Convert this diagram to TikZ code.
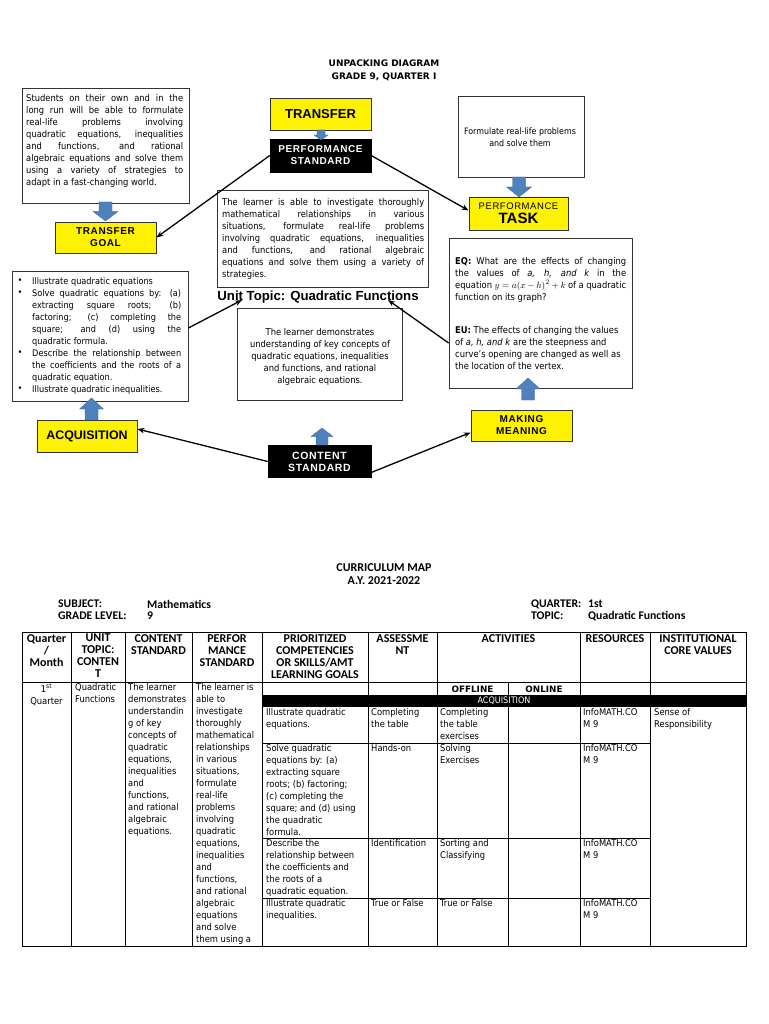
\documentclass[tikz,border=0pt]{standalone}
\usepackage{fontspec}
\setmainfont{DejaVu Sans Condensed}
\newfontfamily\arialf{Liberation Sans}
\newfontfamily\arialsp{Liberation Sans}[LetterSpace=6]
\newfontfamily\calib{Carlito}
\newfontfamily\verd{DejaVu Sans}
\usetikzlibrary{arrows.meta,calc}
\definecolor{ablue}{HTML}{4F81BD}
\definecolor{bxline}{HTML}{333333}
\newcommand\jl[1]{\hbox to \hsize{#1}}
\newcommand\bdn[5]{\filldraw[fill=ablue,draw=ablue!80!black,line width=0.3pt] (#1-#4,#2) -- (#1+#4,#2) -- (#1+#4,{(#2+#3)/2}) -- (#1+#5,{(#2+#3)/2}) -- (#1,#3) -- (#1-#5,{(#2+#3)/2}) -- (#1-#4,{(#2+#3)/2}) -- cycle;}
\tikzset{
 ylbl/.style={draw=bxline, line width=0.8pt, fill=yellow, inner sep=0pt, align=center},
 blkbox/.style={fill=black, draw=black, inner sep=0pt, align=center, text=white},
 tbox/.style={draw=bxline, line width=0.8pt, inner sep=0pt},
 conn/.style={line width=1.3pt, -{Stealth[length=7pt,width=5.5pt]}},
 txtbox/.style={inner sep=0pt, anchor=north west, font=\fontsize{9.3}{12}\selectfont},
 tline/.style={line width=0.6pt},
 thead/.style={inner sep=0pt, anchor=north, align=center, font=\calib\bfseries\fontsize{12}{12}\selectfont},
 tbody/.style={inner sep=0pt, anchor=north west, align=left, font=\fontsize{9.3}{12}\selectfont},
 cmaptxt/.style={inner sep=0pt, anchor=west, font=\calib\bfseries\fontsize{11.7}{12}\selectfont},
}
\begin{document}
\begin{tikzpicture}[x=1pt,y=-1pt]
\useasboundingbox[fill=white] (0,0) rectangle (768,1024);

\node[font=\verd\bfseries\fontsize{9}{13}\selectfont, align=center, inner sep=0pt] (title) at (384,70.5) {UNPACKING DIAGRAM\\GRADE 9, QUARTER I};

% ---------- boxes ----------
\node[tbox, minimum width=167pt, minimum height=115pt] (tgt) at (105.5,145.5) {};
\node[txtbox] (tgtx) at (26,94) {\vbox{\hsize=157pt \jl{Students on their own and in the}\jl{long run will be able to formulate}\jl{real-life problems involving}\jl{quadratic equations, inequalities}\jl{and functions, and rational}\jl{algebraic equations and solve them}\jl{using a variety of strategies to}\hbox{adapt in a fast-changing world.}}};

\node[ylbl, minimum width=101pt, minimum height=32pt, font=\arialf\bfseries\fontsize{13}{14}\selectfont] (tr) at (320.5,114) {TRANSFER};
\node[blkbox, minimum width=101pt, minimum height=33pt, font=\arialsp\bfseries\fontsize{10}{12}\selectfont] (ps) at (320.5,155.5) {PERFORMANCE\\STANDARD};

\node[tbox, minimum width=211pt, minimum height=97pt] (pst) at (322.5,238.5) {};
\node[txtbox] (pstx) at (222,198.5) {\vbox{\hsize=202pt \jl{The learner is able to investigate thoroughly}\jl{mathematical relationships in various}\jl{situations, formulate real-life problems}\jl{involving quadratic equations, inequalities}\jl{and functions, and rational algebraic}\jl{equations and solve them using a variety of}\hbox{strategies.}}};

\node[ylbl, minimum width=101pt, minimum height=31pt, font=\arialsp\bfseries\fontsize{10}{12}\selectfont] (tg) at (105.5,237.5) {TRANSFER\\GOAL};

\node[tbox, minimum width=126pt, minimum height=81pt] (fb) at (521,136.5) {};
\node[inner sep=0pt, align=center, font=\fontsize{8.8}{12}\selectfont] (fbx) at (520,137) {Formulate real-life problems\\and solve them};

\node[ylbl, minimum width=99pt, minimum height=33pt, font=\arialf\fontsize{10}{14.5}\selectfont] (pt) at (518.5,213.5) {{\arialsp\fontsize{9.5}{10}\selectfont PERFORMANCE}\\{\arialf\bfseries\fontsize{15}{16}\selectfont TASK}};

\node[tbox, minimum width=183pt, minimum height=150pt] (eq) at (540.5,313) {};
\node[txtbox] (eqx) at (455,257) {\vbox{\hsize=171pt \jl{\textbf{EQ:} What are the effects of changing}\jl{the values of \textit{a, h, and k} in the}\jl{equation $y=a(x-h)^2+k$ of a quadratic}\hbox{function on its graph?}\vskip 21pt\hbox{\textbf{EU:} The effects of changing the values}\hbox{of \textit{a, h, and k} are the steepness and}\hbox{curve's opening are changed as well as}\hbox{the location of the vertex.}}};

\node[ylbl, minimum width=101pt, minimum height=31pt, font=\arialsp\bfseries\fontsize{10}{12}\selectfont] (mm) at (521.5,425.5) {MAKING\\MEANING};

\node[tbox, minimum width=176pt, minimum height=130pt] (lst) at (100,336) {};
\foreach \yy in {281,293,353,389} \node[inner sep=0pt, anchor=center, font=\fontsize{9}{12}\selectfont] at (20,\yy) {•};
\node[txtbox, font=\fontsize{9.1}{12}\selectfont] (l1) at (32,277) {\vbox{\hsize=149pt \hbox{Illustrate quadratic equations}}};
\node[txtbox, font=\fontsize{9.1}{12}\selectfont] (l2) at (32,289) {\vbox{\hsize=149pt \jl{Solve quadratic equations by: (a)}\jl{extracting square roots; (b)}\jl{factoring; (c) completing the}\jl{square; and (d) using the}\hbox{quadratic formula.}}};
\node[txtbox, font=\fontsize{9.1}{12}\selectfont] (l3) at (32,349) {\vbox{\hsize=149pt \jl{Describe the relationship between}\jl{the coefficients and the roots of a}\hbox{quadratic equation.}}};
\node[txtbox, font=\fontsize{9.1}{12}\selectfont] (l4) at (32,385) {\vbox{\hsize=149pt \hbox{Illustrate quadratic inequalities.}}};

\node[inner sep=0pt, font=\arialf\bfseries\fontsize{13.2}{14}\selectfont] (ut) at (318,297.5) {Unit Topic: Quadratic Functions};

\node[tbox, minimum width=165pt, minimum height=92pt] (cb) at (319.5,354) {};
\node[inner sep=0pt, align=center, font=\fontsize{9.3}{12}\selectfont] (cbx) at (320,357) {The learner demonstrates\\understanding of key concepts of\\quadratic equations, inequalities\\and functions, and rational\\algebraic equations.};

\node[ylbl, minimum width=100pt, minimum height=32pt, font=\arialf\bfseries\fontsize{12.4}{13}\selectfont] (acq) at (87,436) {ACQUISITION};
\node[blkbox, minimum width=103pt, minimum height=32pt, font=\arialsp\bfseries\fontsize{10.5}{12}\selectfont] (cs) at (319.5,461.5) {CONTENT\\STANDARD};

% ---------- block arrows ----------
\bdn{321}{130}{140}{4}{7}
\bdn{105.5}{202}{221}{6.5}{12.5}
\bdn{519}{177}{197}{6.5}{12.5}
\bdn{91.5}{420}{398}{6.5}{12}
\bdn{322}{445}{428}{6}{11}
\bdn{528}{400}{378}{6.5}{12}

% ---------- connectors ----------
\coordinate (utl) at (242,300);
\coordinate (utr) at (388,300);
\draw[conn] (ps.west) -- (tg.east);
\draw[conn] (ps.east) -- ([yshift=3pt]pt.west);
\draw[conn] ([yshift=8pt]lst.east) -- (utl);
\draw[conn] ([yshift=-30pt]eq.west) -- (utr);
\draw[conn] (cs.west) -- ([yshift=7pt]acq.east);
\draw[conn] ([yshift=-11pt]cs.east) -- ([yshift=-7pt]mm.west);

% ---------- curriculum map ----------
\node[inner sep=0pt, align=center, font=\calib\bfseries\fontsize{12}{13}\selectfont] (cmt) at (384,574) {CURRICULUM MAP\\A.Y. 2021-2022};
\node[cmaptxt] (s1) at (58,604) {SUBJECT:};
\node[cmaptxt] (s2) at (147,604) {Mathematics};
\node[cmaptxt] (s3) at (58,616) {GRADE LEVEL:};
\node[cmaptxt] (s4) at (147,616) {9};
\node[cmaptxt] (q1) at (531,604) {QUARTER:};
\node[cmaptxt] (q2) at (588,604) {1st};
\node[cmaptxt] (q3) at (531,616) {TOPIC:};
\node[cmaptxt] (q4) at (588,616) {Quadratic Functions};

% table lines
\fill (262,695) rectangle (746,707);
\foreach \x in {71,125,192,262} \draw[tline] (\x,632) -- (\x,946);
\foreach \x in {368,437,580,650} {\draw[tline] (\x,632) -- (\x,695); \draw[tline] (\x,707) -- (\x,946);}
\draw[tline] (508,682) -- (508,695);
\draw[tline] (508,707) -- (508,946);
\draw[tline] (22,682) -- (746,682);
\foreach \y in {743,838,898} \draw[tline] (262,\y) -- (650,\y);
\draw[tline] (22,632) rectangle (746,946);

% header
\node[thead] (h1) at (46.5,634) {Quarter\\/\\Month};
\node[thead] (h2) at (98,634) {UNIT\\TOPIC:\\CONTEN\\T};
\node[thead] (h3) at (158.5,634) {CONTENT\\STANDARD};
\node[thead] (h4) at (227,634) {PERFOR\\MANCE\\STANDARD};
\node[thead] (h5) at (315,634) {PRIORITIZED\\COMPETENCIES\\OR SKILLS/AMT\\LEARNING GOALS};
\node[thead] (h6) at (402.5,634) {ASSESSME\\NT};
\node[thead] (h7) at (508.5,634) {ACTIVITIES};
\node[thead] (h8) at (615,634) {RESOURCES};
\node[thead] (h9) at (698,634) {INSTITUTIONAL\\CORE VALUES};

\node[tbody, anchor=north, align=center] (c1) at (46.5,683.5) {1\textsuperscript{st}\\Quarter};
\node[tbody] (c2) at (75,683.5) {Quadratic\\Functions};
\node[tbody] (c3) at (128,683.5) {The learner\\demonstrates\\understandin\\g of key\\concepts of\\quadratic\\equations,\\inequalities\\and\\functions,\\and rational\\algebraic\\equations.};
\node[tbody] (c4) at (196,683.5) {The learner is\\able to\\investigate\\thoroughly\\mathematical\\relationships\\in various\\situations,\\formulate\\real-life\\problems\\involving\\quadratic\\equations,\\inequalities\\and\\functions,\\and rational\\algebraic\\equations\\and solve\\them using a};

\node[inner sep=0pt, font=\verd\bfseries\fontsize{8.8}{12}\selectfont] (off) at (472.5,689) {OFFLINE};
\node[inner sep=0pt, font=\verd\bfseries\fontsize{8.8}{12}\selectfont] (onl) at (544,689) {ONLINE};
\node[inner sep=0pt, text=white, font=\fontsize{9}{10}\selectfont] (acqbar) at (504,701) {ACQUISITION};

\node[tbody] (r1a) at (266,708.5) {Illustrate quadratic\\equations.};
\node[tbody] (r1b) at (371,708.5) {Completing\\the table};
\node[tbody] (r1c) at (440,708.5) {Completing\\the table\\exercises};
\node[tbody] (r1d) at (583,708.5) {InfoMATH.CO\\M 9};
\node[tbody] (r1e) at (654,708.5) {Sense of\\Responsibility};

\node[tbody] (r2a) at (266,744.5) {Solve quadratic\\equations by: (a)\\extracting square\\roots; (b) factoring;\\(c) completing the\\square; and (d) using\\the quadratic\\formula.};
\node[tbody] (r2b) at (371,744.5) {Hands-on};
\node[tbody] (r2c) at (440,744.5) {Solving\\Exercises};
\node[tbody] (r2d) at (583,744.5) {InfoMATH.CO\\M 9};

\node[tbody] (r3a) at (266,839.5) {Describe the\\relationship between\\the coefficients and\\the roots of a\\quadratic equation.};
\node[tbody] (r3b) at (371,839.5) {Identification};
\node[tbody] (r3c) at (440,839.5) {Sorting and\\Classifying};
\node[tbody] (r3d) at (583,839.5) {InfoMATH.CO\\M 9};

\node[tbody] (r4a) at (266,899.5) {Illustrate quadratic\\inequalities.};
\node[tbody] (r4b) at (371,899.5) {True or False};
\node[tbody] (r4c) at (440,899.5) {True or False};
\node[tbody] (r4d) at (583,899.5) {InfoMATH.CO\\M 9};
\end{tikzpicture}
\end{document}
